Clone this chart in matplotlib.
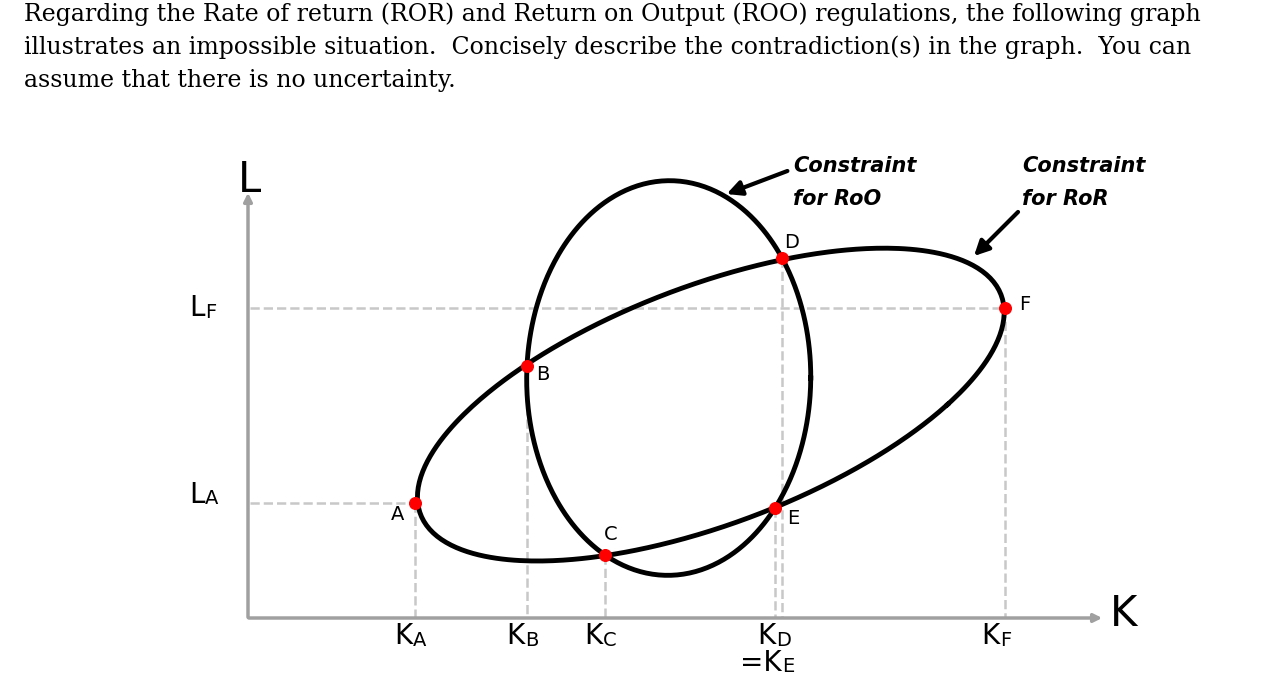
import numpy as np
import matplotlib.pyplot as plt

# question text
question = [
    "Regarding the Rate of return (ROR) and Return on Output (ROO) regulations, the following graph",
    "illustrates an impossible situation.  Concisely describe the contradiction(s) in the graph.  You can",
    "assume that there is no uncertainty.",
]

# labelled points (pixel coordinates of the diagram)
pt_names = ['A', 'B', 'C', 'D', 'E', 'F']
pt_x = [415, 527, 605, 782, 775, 1005]
pt_y = [503, 366, 555, 258, 508, 308]
pt_lab_dx = [-17, 16, 6, 10, 18, 20]
pt_lab_dy = [12, 8, -20, -16, 10, -4]

# points the two constraint curves pass through
ror_x = [415, 527, 782, 1005, 775, 605, 520, 940]
ror_y = [503, 366, 258, 308, 508, 555, 560, 256]
roo_x = [527, 782, 775, 605, 640, 660]
roo_y = [366, 258, 508, 555, 185, 575]

# axis tick labels
xtick_pos = [415, 527, 605, 778, 1002]
xtick_sub = ['A', 'B', 'C', 'D', 'F']
ytick_pos = [308, 495]
ytick_sub = ['F', 'A']


def conic_curve(xs, ys):
    xs = np.asarray(xs, float)
    ys = np.asarray(ys, float)
    m = np.column_stack([xs**2, xs * ys, ys**2, xs, ys, np.ones_like(xs)])
    a, b, c, d, e, f = np.linalg.svd(m)[2][-1]
    cx, cy = np.linalg.solve([[2 * a, b], [b, 2 * c]], [-d, -e])
    f0 = a * cx**2 + b * cx * cy + c * cy**2 + d * cx + e * cy + f
    t = np.linspace(0, 2 * np.pi, 400)
    q = a * np.cos(t)**2 + b * np.cos(t) * np.sin(t) + c * np.sin(t)**2
    r = np.sqrt(-f0 / q)
    return cx + r * np.cos(t), cy + r * np.sin(t)


fig = plt.figure(figsize=(12.88, 6.93), dpi=100)
ax = fig.add_axes([0, 0, 1, 1])
ax.set_xlim(0, 1288)
ax.set_ylim(693, 0)
ax.axis('off')

for i, line in enumerate(question):
    ax.text(24, 14 + 33 * i, line, family='DejaVu Serif', fontsize=17, va='center', ha='left')

# axes
ax.annotate('', xy=(248, 190), xytext=(248, 620),
            arrowprops=dict(arrowstyle='-|>', color='#a0a0a0', lw=2.5, mutation_scale=12))
ax.annotate('', xy=(1105, 618), xytext=(246, 618),
            arrowprops=dict(arrowstyle='-|>', color='#a0a0a0', lw=2.5, mutation_scale=12))
ax.text(1110, 614, 'K', fontsize=30, va='center', ha='left')
ax.text(238, 180, 'L', fontsize=30, va='center', ha='left')

# dashed guides
for x, y in zip(pt_x, pt_y):
    ax.plot([x, x], [y, 618], color='#c8c8c8', ls='--', lw=1.8, zorder=1)
ax.plot([250, pt_x[5]], [pt_y[5], pt_y[5]], color='#c8c8c8', ls='--', lw=1.8, zorder=1)
ax.plot([250, pt_x[0]], [pt_y[0], pt_y[0]], color='#c8c8c8', ls='--', lw=1.8, zorder=1)

# constraint curves
for xs, ys in [(ror_x, ror_y), (roo_x, roo_y)]:
    cx, cy = conic_curve(xs, ys)
    ax.plot(cx, cy, color='black', lw=3.5, zorder=2)

ax.scatter(pt_x, pt_y, s=70, color='red', zorder=3)
for n, x, y, dx, dy in zip(pt_names, pt_x, pt_y, pt_lab_dx, pt_lab_dy):
    ax.text(x + dx, y + dy, n, fontsize=14, ha='center', va='center', zorder=4,
            bbox=dict(facecolor='white', edgecolor='none', pad=0.5))

# tick labels
for x, s in zip(xtick_pos, xtick_sub):
    ax.text(x - 2, 636, 'K', fontsize=20, ha='right', va='center')
    ax.text(x - 2, 640, s, fontsize=14, ha='left', va='center')
ax.text(782, 663, '=K', fontsize=20, ha='right', va='center')
ax.text(782, 667, 'E', fontsize=14, ha='left', va='center')
for y, s in zip(ytick_pos, ytick_sub):
    ax.text(205, y, 'L', fontsize=20, ha='right', va='center')
    ax.text(205, y + 4, s, fontsize=14, ha='left', va='center')

# annotations
ax.text(793, 166, 'Constraint', fontsize=15, fontweight='bold', style='italic', va='center')
ax.text(793, 199, 'for RoO', fontsize=15, fontweight='bold', style='italic', va='center')
ax.text(1022, 166, 'Constraint', fontsize=15, fontweight='bold', style='italic', va='center')
ax.text(1022, 199, 'for RoR', fontsize=15, fontweight='bold', style='italic', va='center')
ax.annotate('', xy=(724, 195), xytext=(790, 170),
            arrowprops=dict(arrowstyle='-|>', color='black', lw=3, mutation_scale=22))
ax.annotate('', xy=(972, 258), xytext=(1020, 210),
            arrowprops=dict(arrowstyle='-|>', color='black', lw=3, mutation_scale=22))

fig.savefig('out.png', dpi=100)
